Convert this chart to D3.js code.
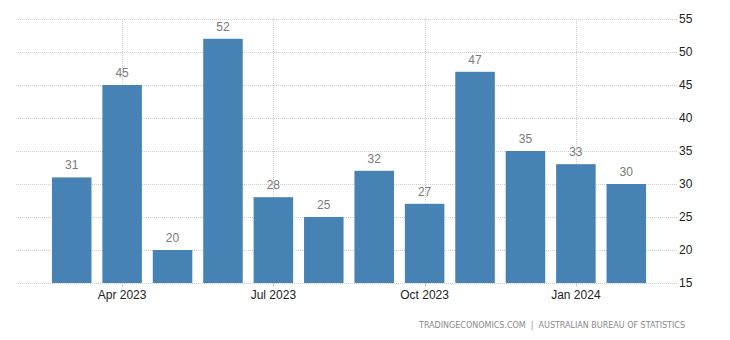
<!DOCTYPE html>
<html>
<head>
<meta charset="utf-8">
<script src="https://cdn.jsdelivr.net/npm/d3@7"></script>
<style>
  body { margin: 0; background: #fff; }
  svg { display: block; font-family: "Liberation Sans", Arial, sans-serif; }
</style>
</head>
<body>
<svg id="chart"></svg>
<script>
// data
const months = ["2023-03", "2023-04", "2023-05", "2023-06", "2023-07", "2023-08",
                "2023-09", "2023-10", "2023-11", "2023-12", "2024-01", "2024-02"];
const values = [31, 45, 20, 52, 28, 25, 32, 27, 47, 35, 33, 30];
const xTicks = ["2023-04", "2023-07", "2023-10", "2024-01"];
const xTickLabels = ["Apr 2023", "Jul 2023", "Oct 2023", "Jan 2024"];
const yTicks = [15, 20, 25, 30, 35, 40, 45, 50, 55];

const width = 730;
const height = 340;

const svg = d3.select('#chart')
  .attr('width', width)
  .attr('height', height);

const x = d3.scaleBand()
  .domain(months)
  .range([46.5, 651.5])
  .paddingInner(0.216)
  .paddingOuter(0.108);

const y = d3.scaleLinear()
  .domain([15, 55])
  .range([283, 19]);

const gridLeft = 16, gridRight = 677;

// horizontal grid
svg.append('g')
  .selectAll('line')
  .data(yTicks)
  .enter()
  .append('line')
  .attr('x1', gridLeft)
  .attr('x2', gridRight)
  .attr('y1', d => Math.round(y(d)) + 0.5)
  .attr('y2', d => Math.round(y(d)) + 0.5)
  .attr('stroke', '#cfcfcf')
  .attr('stroke-dasharray', '1,1');

// vertical grid at labelled months
svg.append('g')
  .selectAll('line')
  .data(xTicks)
  .enter()
  .append('line')
  .attr('x1', d => Math.round(x(d) + x.bandwidth() / 2) + 0.5)
  .attr('x2', d => Math.round(x(d) + x.bandwidth() / 2) + 0.5)
  .attr('y1', y(55))
  .attr('y2', y(15))
  .attr('stroke', '#cfcfcf')
  .attr('stroke-dasharray', '1,1');

// y labels on the right
svg.append('g')
  .selectAll('text')
  .data(yTicks)
  .enter()
  .append('text')
  .attr('x', 679)
  .attr('y', d => y(d) + 4)
  .style('font-size', '12px')
  .attr('fill', '#222')
  .text(d => d);

// bars
svg.append('g')
  .selectAll('rect')
  .data(values)
  .enter()
  .append('rect')
  .attr('x', (d, i) => x(months[i]))
  .attr('y', d => y(d))
  .attr('width', x.bandwidth())
  .attr('height', d => y(15) - y(d))
  .attr('fill', '#4682b4');

// value labels
svg.append('g')
  .selectAll('text')
  .data(values)
  .enter()
  .append('text')
  .attr('x', (d, i) => x(months[i]) + x.bandwidth() / 2)
  .attr('y', d => y(d) - 8)
  .attr('text-anchor', 'middle')
  .style('font-size', '12px')
  .attr('fill', '#7a7a7a')
  .text(d => d);

// x ticks + labels
const xg = svg.append('g');
xg.selectAll('line')
  .data(xTicks)
  .enter()
  .append('line')
  .attr('x1', d => Math.round(x(d) + x.bandwidth() / 2) + 0.5)
  .attr('x2', d => Math.round(x(d) + x.bandwidth() / 2) + 0.5)
  .attr('y1', y(15))
  .attr('y2', y(15) + 4)
  .attr('stroke', '#cfcfcf');

xg.selectAll('text')
  .data(xTicks)
  .enter()
  .append('text')
  .attr('x', d => x(d) + x.bandwidth() / 2)
  .attr('y', 299)
  .attr('text-anchor', 'middle')
  .style('font-size', '12px')
  .attr('fill', '#222')
  .text((d, i) => xTickLabels[i]);

// source
svg.append('text')
  .attr('x', 419)
  .attr('y', 328)
  .attr('textLength', 266)
  .attr('lengthAdjust', 'spacing')
  .style('font-family', '"DejaVu Sans", Verdana, sans-serif')
  .style('font-size', '8px')
  .style('white-space', 'pre')
  .attr('fill', '#8a8a8a')
  .text('TRADINGECONOMICS.COM  |  AUSTRALIAN BUREAU OF STATISTICS');
</script>
</body>
</html>
